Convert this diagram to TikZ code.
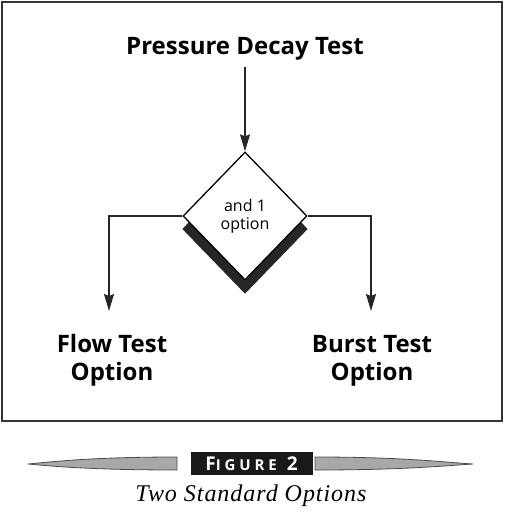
\documentclass[tikz,border=0pt]{standalone}
\usepackage{fontspec}
\setmainfont{Liberation Serif}
\newfontfamily\labelfont{Open Sans}
\usetikzlibrary{shapes.geometric,arrows.meta}
\definecolor{shadowgray}{HTML}{262626}
\definecolor{bargray}{HTML}{A8A8A8}
\tikzset{
  x=1pt, y=-1pt,
  boldlabel/.style={font=\labelfont\bfseries\fontsize{24}{28}\selectfont, align=center, inner sep=0pt},
  flowline/.style={line width=1.4pt, draw=black!85},
  flowarrow/.style={flowline, -{Stealth[length=17pt,width=10pt,inset=2pt]}},
  decision/.style={shape=diamond, minimum width=124pt, minimum height=128pt, inner sep=0pt, line width=1.3pt},
  capbar/.style={fill=bargray, draw=black!70, line width=0.8pt},
}
\begin{document}
\begin{tikzpicture}
\useasboundingbox (0,0) rectangle (506,512);
% frame
\draw[line width=1.5pt, draw=black!80] (2,2) rectangle (502,421);

\node[boldlabel, anchor=base] (title) at (245,54) {Pressure Decay Test};

\node[decision, fill=shadowgray, draw=shadowgray] (shadow) at (245,229) {};
\node[decision, fill=white, draw=black, font=\labelfont\fontsize{16}{18}\selectfont, align=center] (dia) at (245,216) {and 1\\option};

\coordinate (topstart) at (245,67);
\draw[flowarrow] (topstart) -- (dia.north);

\node[boldlabel, anchor=base] (flow) at (112,380) {Flow Test\\Option};
\node[boldlabel, anchor=base] (burst) at (372,380) {Burst Test\\Option};

\coordinate (flowend) at (109,311);
\coordinate (burstend) at (371,311);
\draw[flowarrow] (dia.west) -| (flowend);
\draw[flowarrow] (dia.east) -| (burstend);

% caption
\draw[capbar] (177,457) -- (177,470) .. controls (90,470) and (50,466) .. (28,464) .. controls (50,462) and (90,457) .. cycle;
\draw[capbar] (315,457) -- (315,470) .. controls (402,470) and (442,466) .. (473,464) .. controls (442,462) and (402,457) .. cycle;
\node[fill=black!90, minimum width=122pt, minimum height=23pt, inner sep=0pt, text=white, font=\labelfont\bfseries\fontsize{19}{19}\selectfont\addfontfeature{LetterSpace=26}] (fig) at (251.5,463.5) {F\fontsize{15}{19}\selectfont IGURE\fontsize{19}{19}\selectfont{} 2};
\node[font=\itshape\fontsize{24}{28}\selectfont\addfontfeature{LetterSpace=4}, anchor=base] (cap) at (251,501) {Two Standard Options};
\end{tikzpicture}
\end{document}
